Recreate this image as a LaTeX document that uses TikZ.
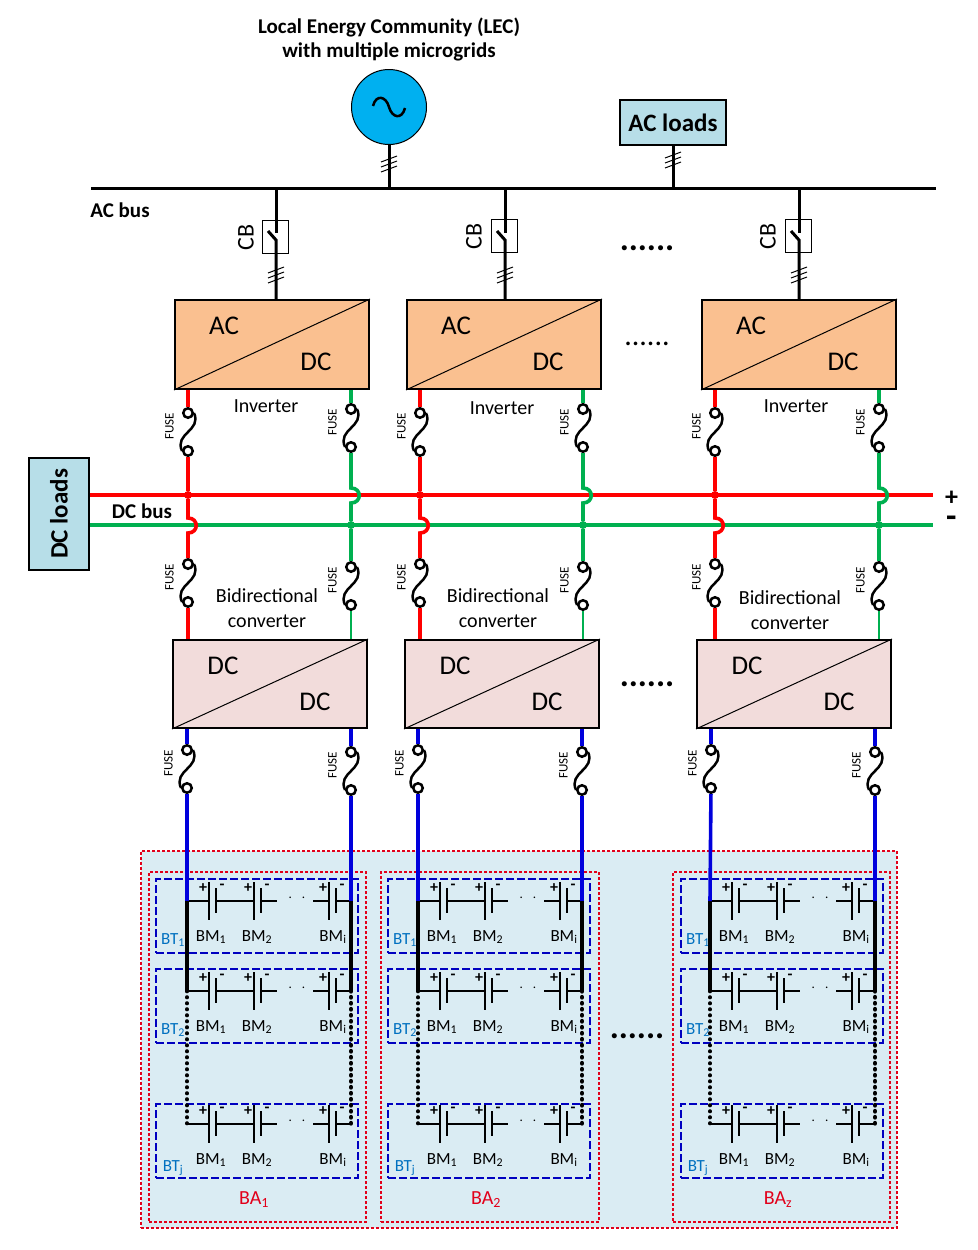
\documentclass[tikz,border=0pt]{standalone}
\usepackage{fontspec}
\setmainfont{Carlito}
\usetikzlibrary{positioning}
\definecolor{invorange}{RGB}{250, 192, 144}
\definecolor{dcpink}{RGB}{242, 220, 219}
\definecolor{loadblue}{RGB}{183, 222, 232}
\definecolor{panelblue}{RGB}{218, 236, 243}
\definecolor{sourceblue}{RGB}{0, 176, 240}
\definecolor{posred}{RGB}{255, 0, 0}
\definecolor{neggreen}{RGB}{0, 176, 80}
\definecolor{batblue}{RGB}{0, 0, 220}
\definecolor{btblue}{RGB}{0, 0, 192}
\definecolor{btlabel}{RGB}{0, 112, 192}
\definecolor{bared}{RGB}{226, 0, 26}

\begin{document}
\begin{tikzpicture}[x=1pt, y=-1pt, every node/.style={inner sep=0pt, align=center}, line join=miter]
  % Styles
  \tikzstyle{inverter} = [rectangle, draw=black, line width=2pt, fill=invorange, minimum width=194pt, minimum height=89pt]
  \tikzstyle{dcdc} = [rectangle, draw=black, line width=2pt, fill=dcpink, minimum width=194pt, minimum height=88pt]
  \tikzstyle{loadbox} = [rectangle, draw=black, line width=1.6pt, fill=loadblue, font=\fontsize{25}{28}\selectfont\bfseries]
  \tikzstyle{breaker} = [rectangle, draw=black, line width=1pt, fill=white, minimum width=26pt, minimum height=33pt]
  \tikzstyle{pin} = [circle, draw=black, line width=2.5pt, fill=white, minimum size=9.5pt]
  \tikzstyle{junction} = [circle, minimum size=8pt]
  \tikzstyle{boxtext} = [font=\fontsize{27}{30}\selectfont]
  \tikzstyle{caption} = [font=\fontsize{20}{25}\selectfont]
  \tikzstyle{buslabel} = [font=\fontsize{21}{24}\selectfont\bfseries]
  \tikzstyle{fuselabel} = [font=\fontsize{13}{14}\selectfont, rotate=90]
  \tikzstyle{gap} = [font=\fontsize{34}{34}\selectfont\bfseries]
  \tikzstyle{bmlabel} = [font=\fontsize{17}{20}\selectfont]
  \tikzstyle{sign} = [font=\fontsize{16}{16}\selectfont\bfseries]
  \tikzstyle{acwire} = [line width=3pt]
  \tikzstyle{redwire} = [line width=3.6pt, posred]
  \tikzstyle{greenwire} = [line width=3.6pt, neggreen]
  \tikzstyle{bluewire} = [line width=3.6pt, batblue]
  \tikzstyle{rail} = [line width=3.6pt]
  \tikzstyle{dotrail} = [line cap=round, dash pattern=on 0.5pt off 5.5pt]
  \tikzstyle{tickmark} = [line width=1pt]
  \tikzstyle{cellwire} = [line width=1.8pt]

  \useasboundingbox (0,0) rectangle (977,1250);

  % Battery panel
  \node (panel) [rectangle, draw=bared, line width=1.5pt, dash pattern=on 3pt off 2pt, fill=panelblue, minimum width=756pt, minimum height=377pt] at (519,1039.5) {};

  \foreach \col/\xba/\wba/\xbt/\xl/\xr/\basub/\xsub in {1/257.5/217/257/187/351/1/254, 2/490/218/489/418/582/2/486, 3/781.5/217/782/710/875/z/778} {
    \node (ba\col) [rectangle, draw=bared, line width=2pt, dash pattern=on 3pt off 2pt, minimum width=\wba pt, minimum height=350pt] at (\xba,1047) {};
    \node (balabel\col) [font=\fontsize{20}{22}\selectfont, text=bared] at (\xsub,1200) {BA\textsubscript{\basub}};

    % strings of modules
    \foreach \row/\y/\ybt/\lbt/\btsub/\wbt in {1/901/916/940/1/1.8, 2/991/1006/1030/2/1.2, 3/1124/1141/1168/j/1.8} {
      \node (bt\col\row) [rectangle, draw=btblue, line width=\wbt pt, dash pattern=on 8pt off 3pt, minimum width=202pt, minimum height=74pt] at (\xbt,\ybt) {};
      \node (btlabel\col\row) [bmlabel, text=btlabel] at (\xbt-84,\lbt) {BT\textsubscript{\btsub}};
      \coordinate (rl\col\row) at (\xl,\y);
      \coordinate (rr\col\row) at (\xr,\y);
      \draw [cellwire] (rl\col\row) -- ++(22,0);
      \draw [cellwire] (rl\col\row) ++(29,0) -- ++(38,0);
      \draw [cellwire] (rl\col\row) ++(74,0) -- ++(16,0);
      \draw [cellwire] (rl\col\row) ++(126,0) -- ++(16,0);
      \draw [cellwire] (rl\col\row) ++(148,0) -- (rr\col\row);
      \node (gap\col\row) [font=\fontsize{13}{13}\selectfont] at (\xl+110,\y-3) {.\hspace{10pt}.};
      \foreach \bm/\dx/\plate/\dxlabel in {1/22/2.8/24, 2/67/2.8/70, i/142/1.8/146} {
        \draw [line width=1.6pt] (\xl+\dx,\y-19) -- (\xl+\dx,\y+19);
        \draw [line width=\plate pt] (\xl+\dx+7,\y-13) -- (\xl+\dx+7,\y+12);
        \node (plus\col\row\bm) [sign] at (\xl+\dx-6,\y-13) {+};
        \node (minus\col\row\bm) [sign] at (\xl+\dx+13,\y-14) {-};
        \node (bm\col\row\bm) [bmlabel] at (\xl+\dxlabel,\y+36) {BM\textsubscript{\bm}};
      }
    }
    % rails between strings
    \draw [rail] (rl\col1) -- (rl\col2);
    \draw [rail] (rr\col1) -- (rr\col2);
    \draw [dotrail, line width=3.6pt] (rl\col2) -- (rl\col3);
    \draw [dotrail, line width=4.4pt] (rr\col2) -- (rr\col3);
  }

  % Source and AC loads
  \node (title) [font=\fontsize{21}{24}\selectfont\bfseries] at (389,39) {Local Energy Community (LEC)\\with multiple microgrids};
  \node (src) [circle, draw=black, line width=1pt, fill=sourceblue, minimum size=75pt] at (389,107) {};
  \draw [line width=2.5pt] ([shift={(-16,-1)}]src.center) .. controls +(3,-12) and +(-3,-11) .. (src.center) .. controls +(3,11) and +(-3,12) .. ([shift={(16,1)}]src.center);
  \node (acloads) [loadbox, minimum width=106pt, minimum height=45pt] at (673,122.5) {AC loads};

  % AC bus
  \coordinate (acstart) at (91,188);
  \coordinate (acend) at (936,188);
  \coordinate (srctap) at (389,188);
  \coordinate (loadtap) at (673,188);
  \draw [acwire] (acstart) -- (acend);
  \draw [acwire] (src) -- (srctap);
  \draw [acwire] (acloads) -- (loadtap);
  \node (aclabel) [buslabel, below=15pt of acstart, xshift=29pt] {AC bus};

  % DC loads and DC bus
  \node (dcloads) [loadbox, minimum width=60pt, minimum height=112pt] at (59,514) {\rotatebox{90}{DC loads}};
  \coordinate (redend) at (933,495);
  \coordinate (greenend) at (933,525);
  \draw [redwire, line width=4pt] (dcloads.east |- redend) -- (redend);
  \draw [greenwire, line width=4pt] (dcloads.east |- greenend) -- (greenend);
  \node (dclabel) [buslabel] at (142,511) {DC bus};
  \node (plusbus) [font=\fontsize{26}{26}\selectfont\bfseries, right=12pt of redend, yshift=-3pt] {+};
  \node (minusbus) [font=\fontsize{34}{34}\selectfont\bfseries, right=13pt of greenend, yshift=3pt] {-};

  % Gaps between columns
  \node (gapcb) [gap] at (647,248) {......};
  \node (gapinv) [font=\fontsize{30}{30}\selectfont] at (647,344) {......};
  \node (gapdc) [gap] at (647,684) {......};
  \node (gapba) [gap] at (637,1036) {......};

  % Columns
  \foreach \col/\xtap/\xcb/\ycb/\xcbl/\xinv/\xdc/\xinvl/\yinvl/\xcon/\ycon/\xa/\xb/\xl/\xr in {
    1/276/275/236.5/246/272/270/266/406/267/608/188/351/187/351,
    2/505/504/235.5/474/504/502/502/408/498/608/420/583/418/582,
    3/799/798.5/235.5/768/799/794/796/406/790/610/715/879/711/875} {
    % breaker branch
    \coordinate (tap\col) at (\xtap,188);
    \node (cb\col) [breaker] at (\xcb,\ycb) {};
    \node (cblabel\col) [font=\fontsize{24}{26}\selectfont, rotate=90] at (\xcbl,\ycb+1) {CB};
    \node (inv\col) [inverter] at (\xinv,344.5) {};
    \draw [line width=1pt] (inv\col.south west) -- (inv\col.north east);
    \node (invac\col) [boxtext] at (\xinv-48,326) {AC};
    \node (invdc\col) [boxtext] at (\xinv+44,362) {DC};
    \node (invlabel\col) [caption] at (\xinvl,\yinvl) {Inverter};
    \draw [acwire] (tap\col) -- ++(0,45);
    \draw [acwire] (tap\col |- inv\col.north) -- ++(0,-59) -- ++(-8,-9);

    % converter
    \node (con\col) [dcdc] at (\xdc,684) {};
    \draw [line width=1pt] (con\col.south west) -- (con\col.north east);
    \node (conin\col) [boxtext] at (\xdc-47,666) {DC};
    \node (conout\col) [boxtext] at (\xdc+45,702) {DC};
    \node (conlabel\col) [caption] at (\xcon,\ycon) {Bidirectional\\converter};

    % fuses
    \foreach \n/\x/\y in {iL/\xa/413, iR/\xb/409, cL/\xa/564, cR/\xb/567, bL/\xl/750, bR/\xr/752} {
      \node (\n\col-t) [pin] at (\x,\y) {};
      \node (\n\col-b) [pin] at (\x,\y+38) {};
      \draw [line width=2.5pt] (\n\col-t.east) .. controls +(8,18) and +(-8,-18) .. (\n\col-b.west);
      \node (\n\col-l) [fuselabel] at (\x-18.5,\y+13) {FUSE};
    }

    % junctions on the DC bus
    \node (jr\col) [junction, fill=posred] at (\xa,495) {};
    \node (jg\col) [junction, fill=neggreen] at (\xb,525) {};

    % positive wires
    \draw [redwire] (iL\col-t |- inv\col.south) -- (iL\col-t);
    \draw [redwire] (iL\col-b) -- (jr\col);
    \draw [redwire] (jr\col) -- (\xa,518) .. controls +(11,0) and +(11,0) .. (\xa,533) -- (cL\col-t);
    \draw [redwire] (cL\col-b) -- (cL\col-b |- con\col.north);

    % negative wires
    \draw [greenwire] (iR\col-t |- inv\col.south) -- (iR\col-t);
    \draw [greenwire] (iR\col-b) -- (\xb,488) .. controls +(11,0) and +(11,0) .. (\xb,503) -- (jg\col);
    \draw [greenwire] (jg\col) -- (cR\col-t);
    \draw [greenwire, line width=2.8pt] (cR\col-b) -- (cR\col-b |- con\col.north);

    % battery side wires
    \draw [bluewire] (bL\col-t |- con\col.south) -- (bL\col-t);
    \draw [bluewire] (bL\col-b) -- (rl\col1);
    \draw [bluewire] (bR\col-t |- con\col.south) -- (bR\col-t);
    \draw [bluewire] (bR\col-b) -- (rr\col1);

    % three-phase ticks
    \foreach \d in {-5,0,5} {
      \draw [tickmark] (\xtap-8,275+\d+3) -- (\xtap+8,275+\d-3);
    }
  }

  % three-phase ticks on the source and the loads
  \foreach \d in {-5,0,5} {
    \draw [tickmark] (381,164+\d+3) -- (397,164+\d-3);
    \draw [tickmark] (665,160+\d+3) -- (681,160+\d-3);
  }
\end{tikzpicture}
\end{document}
